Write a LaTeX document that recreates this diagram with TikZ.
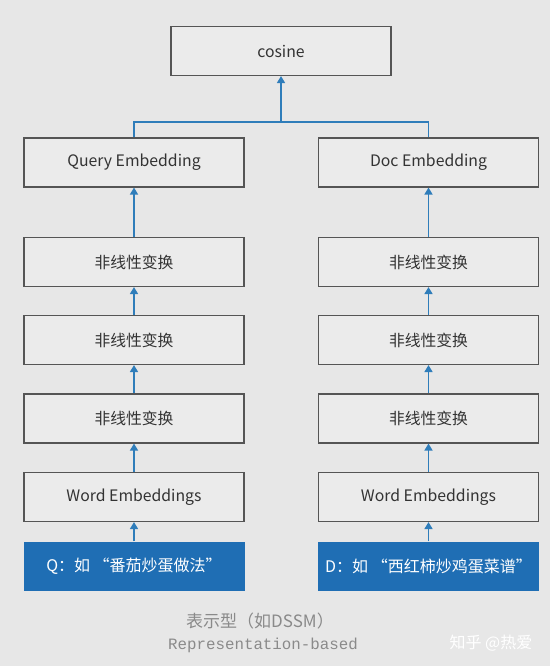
\documentclass[tikz,border=0pt]{standalone}
\usepackage{fontspec}
\setmainfont{Noto Sans CJK SC}
\newfontfamily\monof{Liberation Mono}
\usetikzlibrary{arrows.meta}
\definecolor{bg}{HTML}{E7E7E7}
\definecolor{boxfill}{HTML}{EBEBEB}
\definecolor{boxline}{HTML}{555555}
\definecolor{txt}{HTML}{333333}
\definecolor{arr}{HTML}{2F7DBA}
\definecolor{qblue}{HTML}{1F6EB4}
\definecolor{capgray}{HTML}{8A8A8A}
\tikzset{
  layerbox/.style={draw=boxline, fill=boxfill, line width=1.1pt, minimum width=220pt, minimum height=49pt, inner sep=0pt, text=txt, font=\fontsize{15.8}{18}\selectfont},
  inputbox/.style={fill=qblue, minimum width=221pt, minimum height=49pt, inner sep=0pt, text=white, font=\fontsize{16}{18}\selectfont},
  uparrow/.style={draw=arr, line width=1.4pt, -{Triangle[width=8pt,length=7pt]}},
  link/.style={draw=arr, line width=1.4pt}
}
\begin{document}
\begin{tikzpicture}[x=1pt,y=-1pt]
\fill[bg] (0,0) rectangle (550,666);
\useasboundingbox (0,0) rectangle (550,666);
% top
\node[layerbox] (cos) at (281,51) {cosine};
\node[layerbox] (qe) at (134,162.5) {Query Embedding};
\node[layerbox] (de) at (428.5,162.5) {Doc Embedding};
% left column
\node[layerbox] (l1) at (134,262) {非线性变换};
\node[layerbox] (l2) at (134,340) {非线性变换};
\node[layerbox] (l3) at (134,418.5) {非线性变换};
\node[layerbox] (lw) at (134,497) {Word Embeddings};
\node[inputbox] (lq) at (134,566) {Q：如 “番茄炒蛋做法”};
% right column
\node[layerbox] (r1) at (428.5,262) {非线性变换};
\node[layerbox] (r2) at (428.5,340) {非线性变换};
\node[layerbox] (r3) at (428.5,418.5) {非线性变换};
\node[layerbox] (rw) at (428.5,497) {Word Embeddings};
\node[inputbox] (rd) at (428.5,566) {D：如 “西红柿炒鸡蛋菜谱”};
% merge connector
\coordinate (mj) at (281,122);
\draw[link] (qe.north) |- (mj) -| (de.north);
\draw[uparrow] (mj) -- (cos.south);
% vertical arrows
\foreach \a/\b in {l1/qe, l2/l1, l3/l2, lw/l3, lq/lw, r1/de, r2/r1, r3/r2, rw/r3, rd/rw}
  \draw[uparrow] (\a.north) -- (\b.south);
% captions
\node[text=capgray, font=\fontsize{17}{19}\selectfont, anchor=center] (cap1) at (260,621) {表示型（如DSSM）};
\node[text=capgray, font=\monof\fontsize{15.8}{18}\selectfont, anchor=center] (cap2) at (263,645) {Representation-based};
\node[text=white, font=\fontsize{16}{18}\selectfont, anchor=center] (wm) at (491,643) {知乎 @热爱};
\end{tikzpicture}
\end{document}
